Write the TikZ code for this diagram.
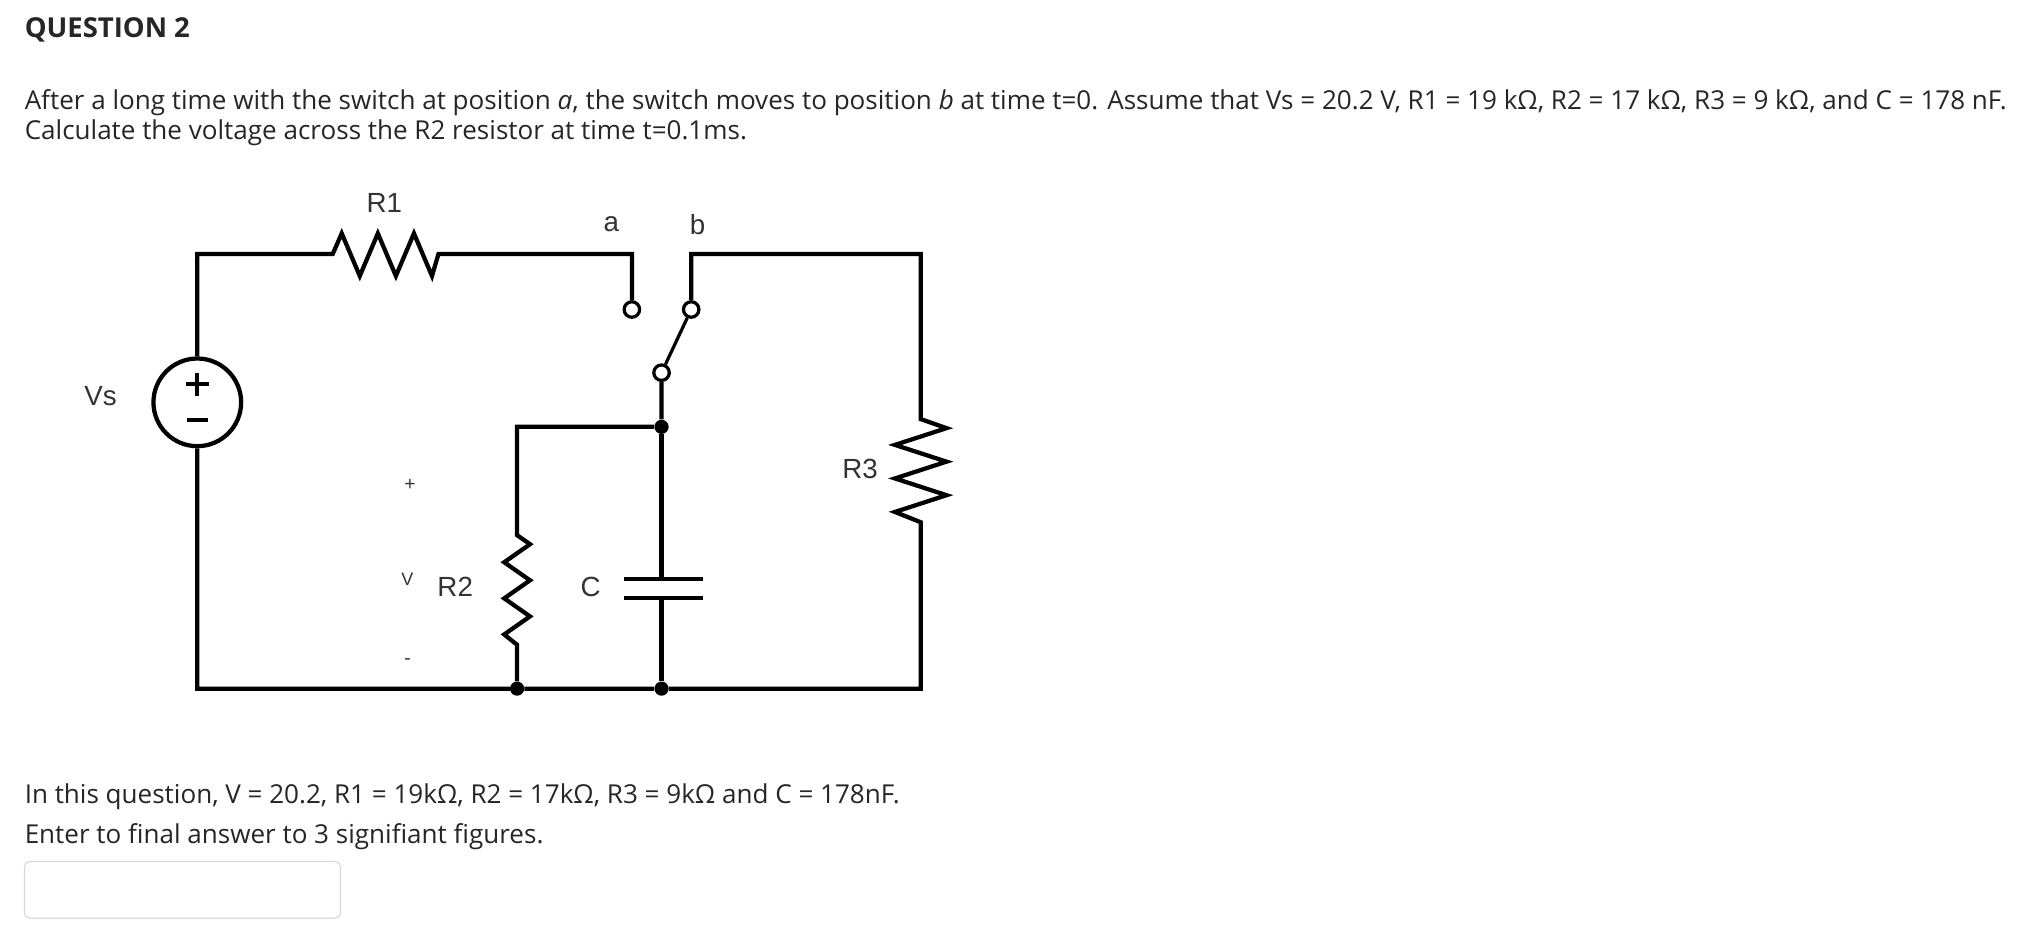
\documentclass[tikz,border=0pt]{standalone}
\usepackage{fontspec}
\setmainfont{Open Sans}
\newfontfamily\arialf{Liberation Sans}
\begin{document}
\begin{tikzpicture}[x=1pt,y=-1pt,
  w/.style={line width=3.3pt},
  lbl/.style={font=\arialf\fontsize{21.5}{23}\selectfont,text=black!80,inner sep=0},
  txt/.style={anchor=base west,inner sep=0,font=\fontsize{20.2}{23}\selectfont,text=black!85},
  dot/.style={circle,fill=black,inner sep=0,minimum size=11pt},
  term/.style={circle,draw,line width=2.5pt,fill=white,inner sep=0,minimum size=12pt}]
\useasboundingbox (0,0) rectangle (1568,729);
% texts
\node[anchor=base west,inner sep=0,font=\bfseries\fontsize{21.3}{23}\selectfont,text=black!85] (q) at (19,29) {QUESTION 2};
\node[txt] (p1) at (19,85) {After a long time with the switch at position \textit{a}, the switch moves to position \textit{b} at time t=0. Assume that Vs = 20.2 V, R1 = 19 kΩ, R2 = 17 kΩ, R3 = 9 kΩ, and C = 178 nF.};
\node[txt] (p2) at (19,108) {Calculate the voltage across the R2 resistor at time t=0.1ms.};
\node[txt] (p3) at (19,623) {In this question, V = 20.2, R1 = 19kΩ, R2 = 17kΩ, R3 = 9kΩ and C = 178nF.};
\node[txt] (p4) at (19,654) {Enter to final answer to 3 signifiant figures.};
\draw[black!15,line width=1pt,rounded corners=4pt] (19,668) rectangle (264,712);
% coordinates
\coordinate (tl) at (153,197);
\coordinate (bl) at (153,534);
\coordinate (r1a) at (258,197);
\coordinate (r1b) at (340,197);
\coordinate (atop) at (490,197);
\coordinate (btop) at (536,197);
\coordinate (tr) at (714,197);
\coordinate (br) at (714,534);
\coordinate (r3a) at (714,325);
\coordinate (r3b) at (714,405);
\coordinate (r2top) at (401,331);
\coordinate (r2a) at (401,415);
\coordinate (r2b) at (401,500);
\coordinate (ca) at (513,449);
\coordinate (cb) at (513,464);
\node[term] (ta) at (490,240) {};
\node[term] (tb) at (536,240) {};
\node[term] (tp) at (513,289) {};
\node[dot] (j1) at (513,331) {};
\node[dot] (j2) at (401,534) {};
\node[dot] (j3) at (513,534) {};
\node[circle,draw,line width=3.3pt,minimum size=68pt,inner sep=0] (vs) at (153,312) {};
\draw[line width=3pt] (153,289) -- (153,307) (144,298) -- (162,298) (145,326) -- (161,326);
% wires
\draw[w] (vs.north) -- (tl) -- (r1a)
  -- ++(7,-16) -- ++(14,33) -- ++(14,-33) -- ++(14,33) -- ++(14,-33) -- ++(14,33) -- (r1b) -- (atop) -- (ta.north);
\draw[w] (tb.north) -- (btop) -- (tr) -- (r3a)
  -- ++(20,7) -- ++(-40,13) -- ++(40,13) -- ++(-40,13) -- ++(40,13) -- ++(-40,13) -- (r3b) -- (br) -- (j3) -- (j2) -- (bl) -- (vs.south);
\draw[line width=2.5pt] (tp) -- (tb);
\draw[w] (tp.south) -- (j1) -- (r2top) -- (r2a)
  -- ++(10,7) -- ++(-20,14) -- ++(20,14) -- ++(-20,14) -- ++(20,14) -- ++(-20,14) -- (r2b) -- (j2);
\draw[w] (j1) -- (ca);
\draw[w] (cb) -- (j3);
\draw[w] (484,449) -- (545,449) (484,464) -- (545,464);
% labels
\node[lbl] (lr1) at (298,157) {R1};
\node[lbl] (la) at (474,174) {a};
\node[lbl] (lb) at (541,174) {b};
\node[lbl] (lvs) at (78,307) {Vs};
\node[lbl] (lr3) at (667,364) {R3};
\node[lbl] (lr2) at (353,455) {R2};
\node[lbl] (lc) at (458,455) {C};
\node[lbl,font=\arialf\fontsize{15}{16}\selectfont] (lp) at (318,376) {+};
\node[lbl,font=\arialf\fontsize{14}{16}\selectfont] (lv) at (316,449) {V};
\node[lbl,font=\arialf\fontsize{15}{16}\selectfont] (lm) at (316,513) {-};
\end{tikzpicture}
\end{document}
